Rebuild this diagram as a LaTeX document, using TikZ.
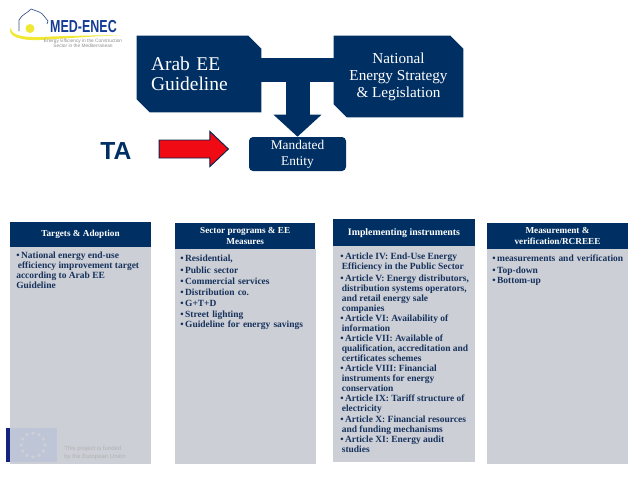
\documentclass[tikz,border=0pt]{standalone}
\usepackage{xcolor}
\usepackage{graphicx}
\usepackage{fontspec}
\setmainfont{Liberation Serif}
\setsansfont{Liberation Sans}
\usepackage{tikz}
\usetikzlibrary{arrows.meta,backgrounds,calc,positioning,shapes.arrows,shapes.geometric}
\definecolor{eenavy}{RGB}{0,48,99}
\definecolor{eegrey}{RGB}{205,207,214}
\definecolor{eeink}{RGB}{22,50,92}
\definecolor{eered}{RGB}{240,10,20}
\definecolor{logoyellow}{RGB}{240,232,50}
\definecolor{logoblue}{RGB}{20,60,150}
\definecolor{flagblue}{RGB}{20,35,125}
\definecolor{flagpale}{RGB}{190,197,215}
\tikzset{
  snipbox/.style={
    text=white,
    inner sep=0pt,
    align=center
  },
  blockline/.style={draw=eenavy, line width=18pt},
  blockarrow/.style={blockline, -{Triangle[length=16.5pt,width=35pt]}},
  headbox/.style={
    fill=eenavy,
    text=white,
    inner sep=0pt,
    align=center,
    font=\fontsize{6.9}{7.6}\selectfont\bfseries
  },
  bodybox/.style={fill=eegrey, inner sep=0pt},
  itemtext/.style={
    anchor=north west,
    inner sep=0pt,
    text=eeink,
    align=left,
    font=\fontsize{7.1}{7.5}\selectfont\bfseries
  },
  tinylabel/.style={inner sep=0pt, align=center, text=black!45}
}
\newcommand{\itm}{\textbullet\,}
\begin{document}
\begin{tikzpicture}[x=0.75pt,y=-0.75pt]
  \useasboundingbox (0,0) rectangle (638,479);

  % logo
  \fill[logoyellow] (11,27) .. controls (6,36) and (20,41) .. (40,40)
    .. controls (70,38) and (100,36) .. (122,35)
    .. controls (90,35.5) and (60,36) .. (40,37)
    .. controls (22,37.5) and (10,35) .. (11,27) -- cycle;
  \draw[logoblue!70!gray,line width=0.5pt]
    (19,31) -- (19,20) .. controls (22,14) and (28,13) .. (31,9)
    .. controls (36,11) and (42,12) .. (44,16) -- (48,21) -- (47,24);
  \fill[logoyellow] (30,28.5) circle (4.5);
  \node[inner sep=0pt,text=logoblue,font=\sffamily\bfseries\fontsize{13}{14}\selectfont]
    (logotitle) at (83.5,27) {\scalebox{0.72}[1]{MED-ENEC}};
  \node[tinylabel,font=\sffamily\fontsize{3.6}{3.75}\selectfont]
    (logosub) at (83,43.5) {Energy Efficiency in the Construction\\Sector in the Mediterranean};

  % top blocks
  \node[snipbox,minimum width=93pt,minimum height=57pt,text width=72pt,inner xsep=10.5pt,
    align=left,font=\fontsize{14.6}{15.5}\selectfont]
    (arab) at (199,74) {Arab EE\\Guideline};
  \node[snipbox,minimum width=96.75pt,minimum height=60.75pt,font=\fontsize{11.4}{12.8}\selectfont]
    (national) at (398.5,76.5) {National\\Energy Strategy\\\& Legislation};
  \node[fill=eenavy,text=white,rounded corners=3pt,minimum width=72.75pt,minimum height=25.5pt,
    inner sep=0pt,align=center,font=\fontsize{10}{11.8}\selectfont]
    (mandated) at (297.5,154) {Mandated\\Entity};
  \begin{scope}[on background layer]
    \foreach \blk in {arab,national}
      \fill[eenavy] (\blk.north west) -- ($(\blk.north east)+(-13,0)$)
        -- ($(\blk.north east)+(0,13)$) -- (\blk.south east)
        -- ($(\blk.south west)+(13,0)$) -- ($(\blk.south west)+(0,-13)$) -- cycle;
  \end{scope}
  \coordinate (tee) at (297.5,70);
  \draw[blockline] (arab.east |- tee) -- (national.west |- tee);
  \draw[blockarrow] (tee) -- (mandated.north);

  % technical assistance
  \node[inner sep=0pt,text=eenavy,font=\sffamily\bfseries\fontsize{18.5}{20}\selectfont]
    (talabel) at (116,151) {TA};
  \node[single arrow,fill=eered,draw=eenavy!80!black,line width=0.7pt,minimum height=52pt,
    inner ysep=6.4pt,inner xsep=0pt,single arrow head extend=6.4pt,single arrow tip angle=87,
    single arrow head indent=0pt]
    (taarrow) at (189,149) {};

  % panels
  \fill[bodybox] (10,247) rectangle (151,464);
  \fill[bodybox] (175,249) rectangle (315.5,464);
  \fill[bodybox] (333,246) rectangle (475,462);
  \fill[bodybox] (487,249) rectangle (628,464);
  \node[headbox,minimum width=105.75pt,minimum height=18.75pt] (targets) at (80.5,234.5) {Targets \& Adoption};
  \node[headbox,minimum width=105.4pt,minimum height=19.5pt] (sector) at (245.2,236) {Sector programs \& EE\\Measures};
  \node[headbox,minimum width=106.5pt,minimum height=20.6pt,font=\fontsize{7.4}{8}\selectfont\bfseries]
    (instruments) at (404,232.7) {Implementing instruments};
  \node[headbox,minimum width=105.75pt,minimum height=19.5pt] (measurement) at (557.5,236) {Measurement \&\\verification/RCREEE};

  \node[itemtext] (targetsitems) at (16,252) {%
    \itm National energy end-use\\
    \,efficiency improvement target\\according to Arab EE\\Guideline};
  \node[itemtext,text width=110pt] (sectoritems) at (180,255) {%
    \setlength{\baselineskip}{8.4pt}\itm Residential,\\\itm Public sector\\\itm Commercial services\\
    \itm Distribution co.\\\itm G+T+D\\\itm Street lighting\\\itm Guideline for energy savings};
  \node[itemtext] (instrumentitems) at (340,253) {%
    \itm Article IV: End-Use Energy\\
    \,Efficiency in the Public Sector\\[1pt]
    \itm Article V: Energy distributors,\\
    \,distribution systems operators,\\
    \,and retail energy sale\\
    \,companies\\
    \itm Article VI: Availability of\\
    \,information\\
    \itm Article VII: Available of\\
    \,qualification, accreditation and\\
    \,certificates schemes\\
    \itm Article VIII: Financial\\
    \,instruments for energy\\
    \,conservation\\
    \itm Article IX: Tariff structure of\\
    \,electricity\\[1pt]
    \itm Article X: Financial resources\\
    \,and funding mechanisms\\
    \itm Article XI: Energy audit\\
    \,studies};
  \node[itemtext,text width=110pt] (measurementitems) at (492,255) {%
    \setlength{\baselineskip}{8.4pt}\itm measurements and verification\\\itm Top-down\\\itm Bottom-up};

  % funding mark
  \fill[flagblue] (6,428) rectangle (10,462);
  \fill[flagpale] (10,428) rectangle (57,462);
  \foreach \ang in {0,30,...,330}
    \node[star,star points=5,fill=eegrey,minimum size=3pt,inner sep=0pt] (star\ang)
      at ($(33,445)+(\ang:12)$) {};
  \node[tinylabel,text=black!30,anchor=west,font=\sffamily\fontsize{4.5}{6}\selectfont,align=left]
    (fundnote) at (64,453) {This project is funded\\by the European Union};
\end{tikzpicture}
\end{document}
